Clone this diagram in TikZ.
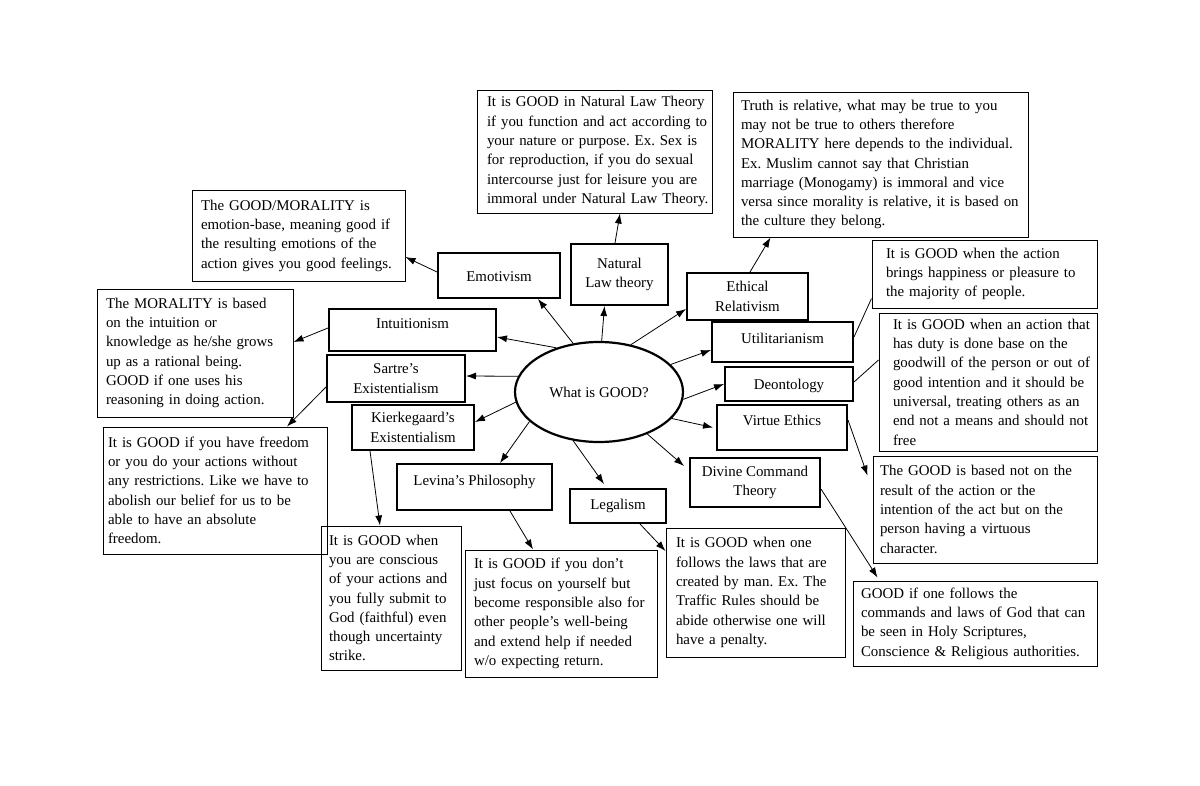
\documentclass[tikz,border=0pt]{standalone}
\usepackage{fontspec}
\setmainfont{Liberation Serif}
\usetikzlibrary{shapes.geometric,arrows.meta}
\newcommand{\bx}[2]{\leftskip=#1pt\rightskip=-60pt plus 1fil\relax #2\par}
\begin{document}
\frenchspacing
\begin{tikzpicture}[x=1pt,y=-1pt,
  every node/.style={font=\fontsize{14.9}{19.3}\selectfont},
  tbox/.style={draw, line width=1pt, inner sep=0pt, align=left},
  mbox/.style={draw, line width=2pt, inner sep=0pt, align=center},
  arr/.style={-{Latex[length=10pt,width=7pt]}, line width=0.8pt},
  ln/.style={line width=0.8pt}]
\fill[white] (0,0) rectangle (1200,785);
\useasboundingbox (0,0) rectangle (1200,785);

% centre
\node[ellipse, draw, line width=2.2pt, minimum width=168pt, minimum height=100pt, inner sep=0pt] (g) at (599,392) {What is GOOD?};

% method boxes
\node[mbox, minimum width=122pt, text height=28pt, text depth=17pt] (emo) at (499,275.5) {Emotivism};
\node[mbox, minimum width=97pt, minimum height=61pt] (nat) at (619.5,274.5) {Natural\\Law theory};
\node[mbox, minimum width=121pt, minimum height=47pt] (rel) at (747.5,296.5) {Ethical\\Relativism};
\node[mbox, minimum width=141pt, text height=21pt, text depth=19pt] (uti) at (782.5,342) {Utilitarianism};
\node[mbox, minimum width=128pt, text height=22pt, text depth=12pt] (deo) at (789,384) {Deontology};
\node[mbox, minimum width=130pt, text height=20pt, text depth=25pt] (vir) at (782,427.5) {Virtue Ethics};
\node[mbox, minimum width=130pt, minimum height=49pt] (div) at (755,482.5) {Divine Command\\Theory};
\node[mbox, minimum width=96pt, text height=20pt, text depth=14pt] (leg) at (618,506) {Legalism};
\node[mbox, minimum width=155pt, text height=21pt, text depth=25pt] (lev) at (474.5,487) {Levina’s Philosophy};
\node[mbox, minimum width=122pt, minimum height=45pt] (kie) at (413,427.5) {Kierkegaard’s\\Existentialism};
\node[mbox, minimum width=138pt, minimum height=47pt] (sar) at (396,378.5) {Sartre’s\\Existentialism};
\node[mbox, minimum width=167pt, text height=19pt, text depth=23pt] (int) at (412.5,330) {Intuitionism};

% text boxes
\node[tbox, minimum width=213pt, minimum height=91pt, text width=213pt] (emoT) at (298.5,235.5) {\bx{9}{The GOOD/MORALITY is\\emotion-base, meaning good if\\the resulting emotions of the\\action gives you good feelings.}};
\node[tbox, minimum width=235pt, minimum height=123pt, text width=235pt] (natT) at (594.5,151.5) {\bx{10}{It is GOOD in Natural Law Theory\\if you function and act according to\\your nature or purpose. Ex. Sex is\\for reproduction, if you do sexual\\intercourse just for leisure you are\\immoral under Natural Law Theory.}};
\node[tbox, minimum width=295pt, minimum height=145pt, text width=295pt] (relT) at (880.5,164.5) {\bx{8}{Truth is relative, what may be true to you\\may not be true to others therefore\\MORALITY here depends to the individual.\\Ex. Muslim cannot say that Christian\\marriage (Monogamy) is immoral and vice\\versa since morality is relative, it is based on\\the culture they belong.}};
\node[tbox, minimum width=225pt, minimum height=68pt, text width=225pt] (utiT) at (984.5,274) {\bx{14}{It is GOOD when the action\\brings happiness or pleasure to\\the majority of people.}};
\node[tbox, minimum width=218pt, minimum height=138pt, text width=218pt] (deoT) at (988,382) {\bx{14}{It is GOOD when an action that\\has duty is done base on the\\goodwill of the person or out of\\good intention and it should be\\universal, treating others as an\\end not a means and should not\\free}};
\node[tbox, minimum width=224pt, minimum height=107pt, text width=224pt] (virT) at (985,509.5) {\bx{7}{The GOOD is based not on the\\result of the action or the\\intention of the act but on the\\person having a virtuous\\character.}};
\node[tbox, minimum width=244pt, minimum height=85pt, text width=244pt] (divT) at (975,623.5) {\bx{8}{GOOD if one follows the\\commands and laws of God that can\\be seen in Holy Scriptures,\\Conscience \& Religious authorities.}};
\node[tbox, minimum width=179pt, minimum height=129pt, text width=179pt] (legT) at (755.5,592.5) {\bx{10}{It is GOOD when one\\follows the laws that are\\created by man. Ex. The\\Traffic Rules should be\\abide otherwise one will\\have a penalty.}};
\node[tbox, minimum width=192pt, minimum height=127pt, text width=192pt] (levT) at (561,613.5) {\bx{9}{It is GOOD if you don’t\\just focus on yourself but\\become responsible also for\\other people’s well-being\\and extend help if needed\\w/o expecting return.}};
\node[tbox, minimum width=140pt, minimum height=144pt, text width=140pt] (kieT) at (391,598) {\bx{8}{It is GOOD when\\you are conscious\\of your actions and\\you fully submit to\\God (faithful) even\\though uncertainty\\strike.}};
\node[tbox, minimum width=224pt, minimum height=127pt, text width=224pt] (sarT) at (215,490.5) {\bx{5}{It is GOOD if you have freedom\\or you do your actions without\\any restrictions. Like we have to\\abolish our belief for us to be\\able to have an absolute\\freedom.}};
\node[tbox, minimum width=196pt, minimum height=128pt, text width=196pt] (intT) at (195,353) {\bx{9}{The MORALITY is based\\on the intuition or\\knowledge as he/she grows\\up as a rational being.\\GOOD if one uses his\\reasoning in doing action.}};

% arrows from centre
\draw[arr] (g.118) -- ([xshift=39pt]emo.south);
\draw[arr] (g.134) -- ([yshift=-7pt]int.east);
\draw[arr] (g.87) -- ([xshift=-15pt]nat.south);
\draw[arr] (g.56) -- ([yshift=-12.5pt]rel.west);
\draw[arr] (g.21) -- ([yshift=-8pt]uti.west);
\draw[arr] (g.169) -- ([yshift=2.5pt]sar.east);
\draw[arr] (g.187) -- ([yshift=5.5pt]kie.east);
\draw[arr] (g.203) -- ([xshift=25.5pt]lev.north);
\draw[arr] (g.355) -- (deo.west);
\draw[arr] (g.340) -- ([xshift=-3pt]vir.west);
\draw[arr] (g.319) -- ([xshift=-5pt,yshift=-9pt]div.north west);
\draw[arr] (g.242) -- ([xshift=-14pt,yshift=4pt]leg.north);

% arrows to explanations
\draw[arr] ([yshift=3.5pt]emo.west) -- ([yshift=-21.5pt]emoT.east);
\draw[arr] ([xshift=-4.5pt]nat.north) -- ([xshift=25.5pt]natT.south);
\draw[arr] ([xshift=2.5pt]rel.north) -- ([xshift=38pt]relT.south west);
\draw[ln] ([yshift=5pt]uti.east) -- ([yshift=10pt]utiT.south west);
\draw[ln] ([yshift=2pt]deo.east) -- ([yshift=22pt]deoT.west);
\draw[arr] ([yshift=7.5pt]vir.east) -- ([xshift=-5pt,yshift=-20pt]virT.north west);
\draw[arr] ([yshift=-6.5pt]div.east) -- ([xshift=25pt,yshift=3pt]divT.north west);
\draw[arr] ([xshift=22pt]leg.south) -- ([yshift=41.5pt]legT.west);
\draw[arr] ([xshift=35.5pt]lev.south) -- ([xshift=-28pt]levT.north);
\draw[arr] ([xshift=-43pt]kie.south) -- ([xshift=-11pt]kieT.north);
\draw[arr] ([yshift=-8.5pt]sar.west) -- ([xshift=72pt]sarT.north);
\draw[arr] ([yshift=2pt]int.west) -- ([yshift=11pt]intT.east);
\end{tikzpicture}
\end{document}
